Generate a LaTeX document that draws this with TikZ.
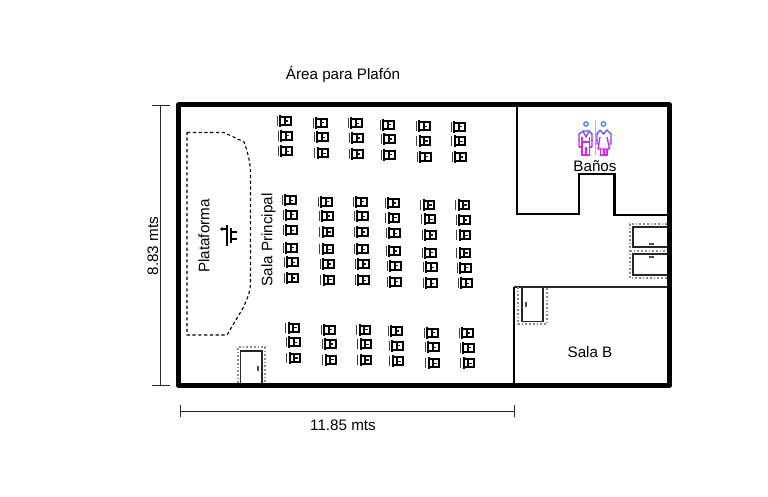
\documentclass[tikz,border=0pt]{standalone}
\usepackage{fontspec}
\setmainfont{Liberation Sans}
\definecolor{icoA}{HTML}{2F8BFF}
\definecolor{icoB}{HTML}{5A5CFF}
\definecolor{icoC}{HTML}{8A3CFF}
\definecolor{icoD}{HTML}{C02CFF}
\definecolor{icoE}{HTML}{E020F0}
\tikzset{
  outerwall/.style={line width=5pt,line join=round},
  innerwall/.style={line width=2.2pt,line join=miter},
  doorleaf/.style={line width=1.6pt,draw=black!85},
  doorswing/.style={line width=1.7pt,draw=black!45,dotted},
  doorknob/.style={line width=1.2pt,draw=black!70},
  dimline/.style={line width=.9pt,draw=black!85},
  stagewall/.style={line width=1.1pt,dash pattern=on 3.2pt off 2.6pt},
  lbl/.style={font=\fontsize{15.2}{17}\selectfont,inner sep=0pt},
}
\newcommand{\chairat}[2]{%
  \begin{scope}[shift={(#1,#2)}]
    \draw[line width=1pt,black!75] (-7,-5)--(-7,5);
    \draw[line width=2.2pt] (-4,-6)--(-4,6);
    \draw[line width=2pt] (-4,-4) rectangle (6.6,4);
    \draw[line width=2pt] (.8,-4)--(.8,4);
    \draw[line width=1.3pt,black!90] (.8,0)--(4,0);
  \end{scope}}
\newcommand{\peopleicon}{%
  \draw (586,124) circle (2.2);
  \draw (579,147) -- (579,134) -- (583,131) -- (589,131) -- (592,134) -- (592,147);
  \draw (583,131) -- (586,137) -- (589,131);
  \draw (579,147) -- (582,147) -- (582,137) (592,147) -- (589.5,147) -- (589.5,137);
  \draw (582,142) -- (589.5,142) (582,147) -- (582,155) -- (585.5,155) -- (585.5,147);
  \draw (589.5,147) -- (589.5,155) -- (586,155) -- (586,147);
  \draw (603.5,124) circle (2.2);
  \draw (600,130) -- (603.5,134) -- (607,130) -- (611,134) -- (611,144) -- (608.5,144);
  \draw (600,130) -- (597,134) -- (597,144) -- (599,144);
  \draw (600,137) -- (598,149) -- (609.5,149) -- (607,137);
  \draw (600.5,149) -- (600.5,155) -- (603.3,155) -- (603.3,149);
  \draw (604.2,149) -- (604.2,155) -- (607,155) -- (607,149);
}
\newcommand{\iconband}[3]{%
  \begin{scope}
    \clip (570,#1) rectangle (620,#2);
    \begin{scope}[draw=#3,line width=1.3pt]\peopleicon\end{scope}
  \end{scope}}
\begin{document}
\begin{tikzpicture}[x=1pt,y=-1pt]
\useasboundingbox (0,0) rectangle (768,497);
\fill[white] (0,0) rectangle (768,497);

% inner walls
\draw[innerwall] (517,105) -- (517,214) -- (579,214) -- (579,174) -- (614.5,174) -- (614.5,215) -- (669,215);
\draw[line width=2.5pt] (514,385) -- (514,286.5);
\draw[line width=2pt,black!85] (514,286.5) -- (669,286.5);

% doors
\draw[doorswing] (667,224) -- (630,224) -- (630,278) -- (667,278) (630,250.7) -- (667,250.7);
\draw[doorleaf] (667,227) -- (633,227) -- (633,247) -- (667,247);
\draw[doorleaf] (667,254) -- (633,254) -- (633,275) -- (667,275);
\draw[doorknob] (648.5,244) -- (653.5,244);
\draw[doorknob] (648.5,257) -- (653.5,257);
\draw[doorswing] (518,287) -- (518,324) -- (547,324) -- (547,287);
\draw[doorleaf] (522,287) -- (522,321.5) -- (543,321.5) -- (543,287);
\draw[doorknob] (526,301.5) -- (526,306.5);
\draw[doorswing] (238,383) -- (238,347) -- (265,347) -- (265,383);
\draw[doorleaf] (240.5,384) -- (240.5,351) -- (262,351) -- (262,384);
\draw[doorknob,line width=1.4pt] (258,365.5) -- (258,371);

% outer wall
\draw[outerwall] (178.5,105) rectangle (669.5,385.5);

% platform
\draw[stagewall] (187,132.5) -- (224,132.5) -- (244,142) .. controls (247,150) and (250,160) .. (250.5,172)
  -- (250.5,285) .. controls (249,297) and (245,303) .. (243,308) -- (227,335) -- (187,335) -- cycle;

% lectern icon
\draw[line width=1.7pt] (227,225) -- (227,246);
\draw[line width=1.4pt] (231,228) -- (231,243);
\draw[line width=1.4pt] (222,229) -- (227,229) (231,232) -- (237,232) (231,239) -- (237,239);
\fill (222,229) circle (1.9);

% chairs: top block
\foreach \zx/\zy in {43/33,45/77,46/124,151/38,153/82,155/130,256/40,258/84,258/132,352/44,354/87,355/134,459/49,461/93,463/140,564/50,566/94,567/141}
  {\pgfmathsetmacro{\cx}{270+\zx/3}\pgfmathsetmacro{\cy}{110+\zy/3}\chairat{\cx}{\cy}}
% chairs: middle block
\foreach \zx/\zy in {58/46,60/89,60/136,60/188,63/232,64/279,166/50,168/93,170/141,170/193,172/237,173/284,271/50,273/94,273/141,273/193,276/237,277/286,366/54,368/98,369/145,369/198,372/242,372/290,473/60,476/103,478/150,478/203,480/247,481/295,578/60,580/105,581/151,581/204,583/248,585/295}
  {\pgfmathsetmacro{\cx}{270+\zx/3}\pgfmathsetmacro{\cy}{185+\zy/3}\chairat{\cx}{\cy}}
% chairs: bottom block
\foreach \zx/\zy in {68/38,70/82,71/129,175/44,178/87,179/134,281/44,284/88,284/135,376/48,378/92,380/139,483/53,486/97,488/145,589/54,591/98,593/145}
  {\pgfmathsetmacro{\cx}{270+\zx/3}\pgfmathsetmacro{\cy}{315+\zy/3}\chairat{\cx}{\cy}}

% restroom icon
\iconband{118}{128}{icoA}
\iconband{128}{134}{icoB}
\iconband{134}{141}{icoC}
\iconband{141}{148}{icoD}
\iconband{148}{158}{icoE}
\draw[line width=1pt,color=icoA!60] (595,121) -- (595,155);

% dimensions
\coordinate (vt) at (160.5,105.5);
\coordinate (vb) at (160.5,385.5);
\coordinate (hl) at (180,411);
\coordinate (hr) at (514,411);
\draw[dimline] (vt) -- (vb);
\draw[dimline] ([xshift=-9pt]vt) -- ([xshift=9pt]vt);
\draw[dimline] ([xshift=-9pt]vb) -- ([xshift=9pt]vb);
\draw[dimline] (hl) -- (hr);
\draw[dimline] ([yshift=-6pt]hl) -- ([yshift=6pt]hl);
\draw[dimline] ([yshift=-6pt]hr) -- ([yshift=6pt]hr);

% labels
\node[lbl] (tplafon) at (343,74) {Área para Plafón};
\node[lbl] (tbanos) at (595,166) {Baños};
\node[lbl] (tsalab) at (590,352) {Sala B};
\node[lbl,rotate=90] (tsalap) at (268.5,240) {Sala Principal};
\node[lbl,rotate=90] (tplat) at (204,236) {Plataforma};
\node[lbl,rotate=90] (th) at (153,246) {8.83 mts};
\node[lbl] (tw) at (343,425) {11.85 mts};
\end{tikzpicture}
\end{document}
